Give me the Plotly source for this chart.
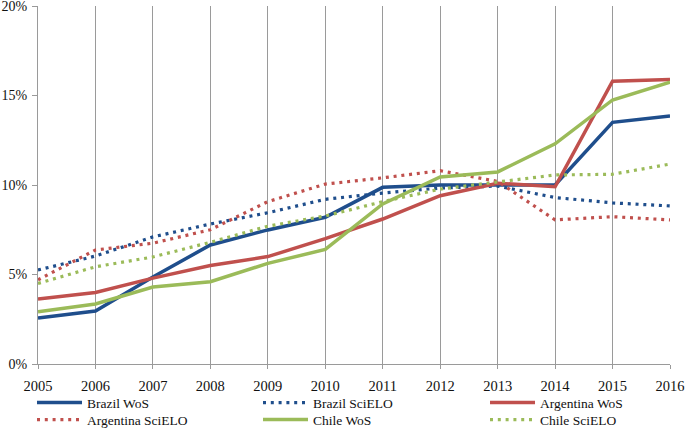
import plotly.graph_objects as go

years = [2005, 2006, 2007, 2008, 2009, 2010, 2011, 2012, 2013, 2014, 2015, 2016]

brazil_wos = [2.57, 2.96, 4.86, 6.65, 7.49, 8.2, 9.87, 10.0, 10.0, 10.0, 13.5, 13.85]
brazil_scielo = [5.25, 6.03, 7.1, 7.82, 8.45, 9.2, 9.55, 9.83, 9.94, 9.3, 9.0, 8.83]
argentina_wos = [3.63, 4.0, 4.8, 5.5, 6.0, 7.0, 8.1, 9.4, 10.1, 9.9, 15.8, 15.9]
argentina_scielo = [4.7, 6.37, 6.75, 7.5, 9.07, 10.05, 10.4, 10.8, 10.2, 8.05, 8.23, 8.05]
chile_wos = [2.92, 3.35, 4.3, 4.6, 5.62, 6.4, 8.94, 10.45, 10.73, 12.3, 14.75, 15.75]
chile_scielo = [4.5, 5.43, 5.98, 6.8, 7.7, 8.27, 9.07, 9.77, 10.17, 10.56, 10.6, 11.17]

y_ticks = [0, 5, 10, 15, 20]
y_tick_labels = ["0%", "5%", "10%", "15%", "20%"]

BLUE = "#1F4E8C"
RED = "#C0504D"
GREEN = "#9BBB59"
DOT = "3px,4.8px"

series = [
    ("Brazil WoS", brazil_wos, BLUE, "solid"),
    ("Brazil SciELO", brazil_scielo, BLUE, DOT),
    ("Argentina WoS", argentina_wos, RED, "solid"),
    ("Argentina SciELO", argentina_scielo, RED, DOT),
    ("Chile WoS", chile_wos, GREEN, "solid"),
    ("Chile SciELO", chile_scielo, GREEN, DOT),
]

# legend slot (column, row) for each series: 3 columns x 2 rows
col_x = [-0.0095, 0.3481, 0.7073]
row_y = [-0.065, -0.1125]

font_family = "Liberation Serif, DejaVu Serif, serif"
legend_common = dict(
    orientation="h", xanchor="left", yanchor="top", itemwidth=45,
    font=dict(size=13.5, family=font_family, color="#111"),
    bgcolor="rgba(0,0,0,0)",
)

fig = go.Figure()
legends = {}
for i, (name, vals, color, dash) in enumerate(series):
    key = "legend" if i == 0 else f"legend{i + 1}"
    fig.add_trace(go.Scatter(
        x=years, y=vals, mode="lines", name=name, legend=key,
        line=dict(color=color, width=3.5 if dash == "solid" else 3.2, dash=dash),
    ))
    legends[key] = dict(x=col_x[i % 3], y=row_y[i // 3], **legend_common)

fig.update_layout(
    width=685, height=428,
    margin=dict(l=38, r=15, t=6, b=64, autoexpand=False),
    paper_bgcolor="white", plot_bgcolor="white",
    font=dict(family=font_family, size=14, color="#111"),
    showlegend=True,
    xaxis=dict(
        range=[2005, 2016], tickmode="array", tickvals=years,
        ticktext=[str(y) for y in years], tickfont=dict(size=14.5),
        showgrid=True, gridcolor="#9a9a9a", gridwidth=1.3,
        showline=True, linecolor="#9a9a9a", linewidth=1.3,
        ticks="outside", ticklen=4, tickcolor="#9a9a9a",
        ticklabelstandoff=4, ticklabeloverflow="allow",
        zeroline=False, fixedrange=True, automargin=False,
    ),
    yaxis=dict(
        range=[0, 20], tickmode="array", tickvals=y_ticks, ticktext=y_tick_labels,
        tickfont=dict(size=14),
        showgrid=False, showline=True, linecolor="#9a9a9a", linewidth=1.3,
        ticks="outside", ticklen=5, tickcolor="#9a9a9a",
        ticklabelstandoff=2, ticklabeloverflow="allow",
        zeroline=False, fixedrange=True, automargin=False,
    ),
)
fig.update_layout(**legends)

fig.write_html("out.html", config={"displayModeBar": False},
               post_script="document.body.style.margin='0px';")
